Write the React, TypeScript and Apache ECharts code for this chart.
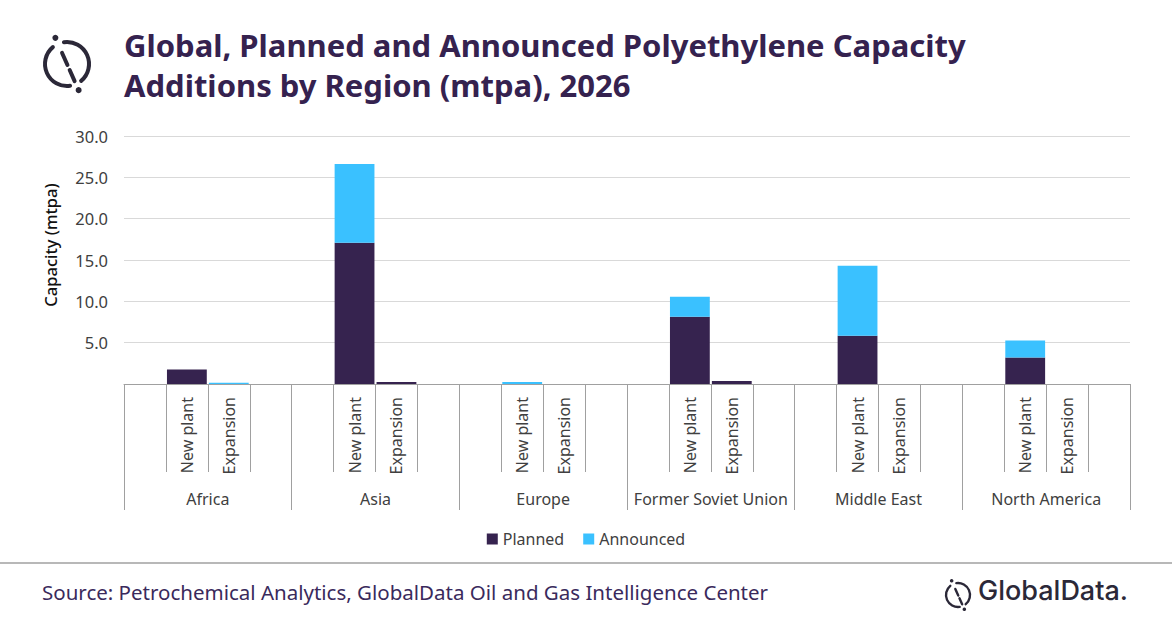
import React, { useEffect, useRef } from "react";
import * as echarts from "echarts";

const regions = ["Africa", "Asia", "Europe", "Former Soviet Union", "Middle East", "North America"];
const subTypes = ["New plant", "Expansion"];
const plannedNew = [1.75, 17.1, 0, 8.15, 5.85, 3.2];
const plannedExp = [0, 0.25, 0, 0.35, 0, 0];
const announcedNew = [0, 9.5, 0.25, 2.4, 8.45, 2.05];
const announcedExp = [0.15, 0, 0, 0, 0, 0];
const yTicks = [0, 5, 10, 15, 20, 25, 30];

const PLANNED = "#36234f";
const ANNOUNCED = "#3ac1ff";
const LOGO = "#2b2838";

function buildSlots() {
  const cats: string[] = [];
  const planned: (number | null)[] = [];
  const announced: (number | null)[] = [];
  regions.forEach((_, i) => {
    cats.push("", subTypes[0], subTypes[1], "");
    planned.push(null, plannedNew[i], plannedExp[i], null);
    announced.push(null, announcedNew[i], announcedExp[i], null);
  });
  return { cats, planned, announced };
}

function logo(cx: number, cy: number, r: number, lw: number) {
  const a1 = (246 * Math.PI) / 180;
  const a2 = (66 * Math.PI) / 180;
  const gap = (16 * Math.PI) / 180;
  const dx = Math.cos(a2);
  const dy = Math.sin(a2);
  const pt = (t: number) => [cx + dx * t * r, cy + dy * t * r];
  const s = { stroke: LOGO, lineWidth: lw, fill: "none", lineCap: "round" };
  return [
    { type: "arc", shape: { cx, cy, r, startAngle: a1 + gap, endAngle: a2 - gap + 2 * Math.PI, clockwise: true }, style: s },
    { type: "arc", shape: { cx, cy, r, startAngle: a2 + gap, endAngle: a1 - gap, clockwise: true }, style: s },
    { type: "line", shape: { x1: pt(-0.55)[0], y1: pt(-0.55)[1], x2: pt(0.05)[0], y2: pt(0.05)[1] }, style: s },
    { type: "line", shape: { x1: pt(0.3)[0], y1: pt(0.3)[1], x2: pt(0.85)[0], y2: pt(0.85)[1] }, style: s },
    { type: "circle", shape: { cx: pt(-1.3)[0], cy: pt(-1.3)[1], r: lw * 0.75 }, style: { fill: LOGO } },
    { type: "circle", shape: { cx: pt(1.3)[0], cy: pt(1.3)[1], r: lw * 0.75 }, style: { fill: LOGO } },
  ];
}

export default function App() {
  const ref = useRef<HTMLDivElement>(null);
  useEffect(() => {
    document.body.style.margin = "0";
    if (!ref.current) return;
    const chart = echarts.init(ref.current, null, { renderer: "svg" });
    const { cats, planned, announced } = buildSlots();
    const font = "'Noto Sans', sans-serif";
    chart.setOption({
      animation: false,
      backgroundColor: "#ffffff",
      textStyle: { fontFamily: font },
      grid: { left: 124, right: 42, top: 136, bottom: 244 },
      legend: {
        top: 526,
        left: "center",
        icon: "rect",
        itemWidth: 11,
        itemHeight: 11,
        itemGap: 19,
        textStyle: { fontSize: 16, color: "#404040", fontFamily: font },
        data: ["Planned", "Announced"],
      },
      xAxis: [
        {
          type: "category",
          data: cats,
          boundaryGap: true,
          axisLine: { show: true, lineStyle: { color: "#a0a0a0", width: 1 } },
          axisTick: { show: true, interval: 0, length: 88, lineStyle: { color: "#a0a0a0" } },
          axisLabel: { interval: 0, rotate: 90, margin: 13, fontSize: 16, color: "#404040", fontFamily: font },
          splitLine: { show: false },
        },
        {
          type: "category",
          data: regions,
          boundaryGap: true,
          position: "bottom",
          axisLine: { show: false },
          axisTick: { show: true, interval: 0, length: 126, lineStyle: { color: "#a0a0a0" } },
          axisLabel: { interval: 0, margin: 107, fontSize: 16, color: "#404040", fontFamily: font },
          splitLine: { show: false },
        },
      ],
      yAxis: {
        type: "value",
        min: yTicks[0],
        max: yTicks[yTicks.length - 1],
        interval: 5,
        axisLine: { show: false },
        axisTick: { show: false },
        axisLabel: {
          margin: 16,
          fontSize: 16.5,
          color: "#404040",
          fontFamily: font,
          formatter: (v: number) => (v === 0 ? "" : v.toFixed(1)),
        },
        splitLine: { lineStyle: { color: "#d9d9d9" } },
      },
      series: [
        {
          name: "Planned",
          type: "bar",
          stack: "total",
          xAxisIndex: 0,
          data: planned,
          barCategoryGap: "5%",
          itemStyle: { color: PLANNED },
        },
        {
          name: "Announced",
          type: "bar",
          stack: "total",
          xAxisIndex: 0,
          data: announced,
          barCategoryGap: "5%",
          itemStyle: { color: ANNOUNCED },
        },
      ],
      graphic: [
        ...logo(67, 64, 22, 4),
        {
          type: "text",
          left: 124,
          top: 25,
          style: {
            text: "Global, Planned and Announced Polyethylene Capacity\nAdditions by Region (mtpa), 2026",
            fontSize: 31,
            fontWeight: "bold",
            lineHeight: 40,
            fill: "#35224f",
            fontFamily: font,
          },
        },
        {
          type: "text",
          x: 50,
          y: 245,
          rotation: Math.PI / 2,
          style: {
            text: "Capacity (mtpa)",
            fontSize: 16.5,
            fontWeight: 500,
            fill: "#111111",
            fontFamily: font,
            align: "center",
            verticalAlign: "middle",
          },
        },
        {
          type: "line",
          shape: { x1: 0, y1: 563, x2: 1172, y2: 563 },
          style: { stroke: "#a0a0a0", lineWidth: 1.5 },
        },
        {
          type: "text",
          left: 42,
          top: 581,
          style: {
            text: "Source: Petrochemical Analytics, GlobalData Oil and Gas Intelligence Center",
            fontSize: 20.5,
            fill: "#3a2a5c",
            fontFamily: font,
          },
        },
        ...logo(958, 595, 12, 2.4),
        {
          type: "text",
          left: 978,
          top: 577,
          style: {
            text: "GlobalData.",
            fontSize: 27,
            fontWeight: 500,
            fill: LOGO,
            fontFamily: "Inter, sans-serif",
          },
        },
      ],
    });
    return () => chart.dispose();
  }, []);
  return <div ref={ref} style={{ width: 1172, height: 628 }} />;
}
